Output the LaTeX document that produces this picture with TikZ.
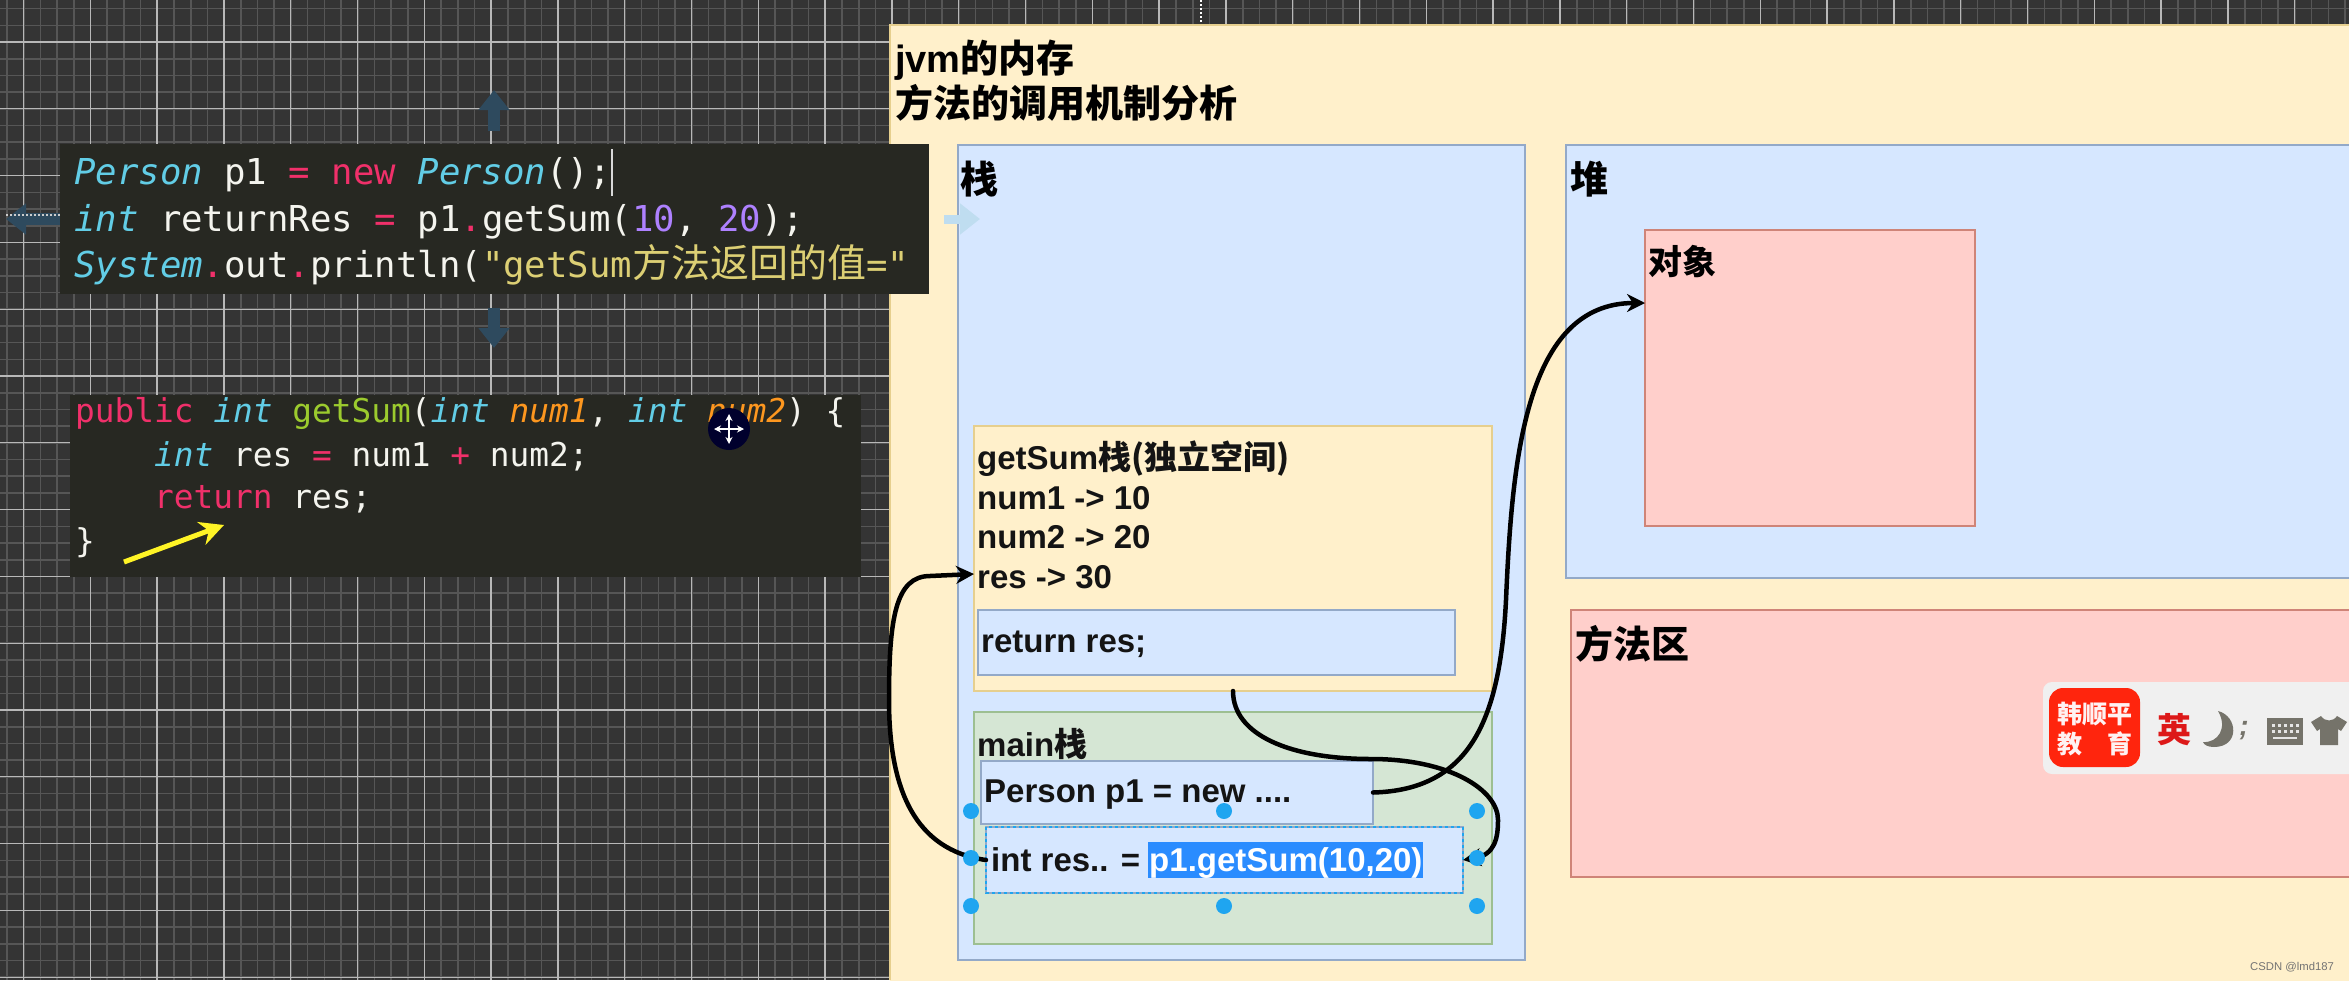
\documentclass[tikz,border=0pt]{standalone}
\usepackage{fontspec}
\setmainfont{Liberation Sans}
\setmonofont{DejaVu Sans Mono}
\newfontfamily\cjk{Noto Sans CJK SC}
\usetikzlibrary{arrows.meta}
\definecolor{bgdark}{HTML}{343434}
\definecolor{gridminor}{HTML}{565656}
\definecolor{gridmajor}{HTML}{B8B8B8}
\definecolor{codebg}{HTML}{272822}
\definecolor{cyellow}{HTML}{FFF0CB}
\definecolor{cblue}{HTML}{D6E7FF}
\definecolor{cgreen}{HTML}{D5E6D4}
\definecolor{cred}{HTML}{FFCFCB}
\definecolor{lyellow}{HTML}{E6CF8E}
\definecolor{lblue}{HTML}{93A9C8}
\definecolor{lgreen}{HTML}{9DBF92}
\definecolor{lred}{HTML}{CF8478}
\definecolor{tblue}{HTML}{62CDE6}
\definecolor{tred}{HTML}{F0306A}
\definecolor{twhite}{HTML}{F4F4EE}
\definecolor{tpurple}{HTML}{AE81FF}
\definecolor{tyellow}{HTML}{DCCF74}
\definecolor{torange}{HTML}{FD971F}
\definecolor{tgreen}{HTML}{9CCB2E}
\definecolor{hblue}{HTML}{2A8CFF}
\definecolor{handle}{HTML}{1FA5F0}
\definecolor{icong}{HTML}{75736A}
\definecolor{hover}{HTML}{2E4A5E}
\definecolor{hoverl}{HTML}{BFDDF0}
\newcommand{\sz}[1]{\fontsize{#1}{#1}\selectfont}
\newcommand{\cn}[1]{{\cjk\bfseries #1}}
\newcommand{\ty}[1]{{\color{tblue}\itshape #1}}
\newcommand{\rd}[1]{{\color{tred}\relax #1}}
\newcommand{\wh}[1]{{\color{twhite}\relax #1}}
\tikzset{
  x=1pt,y=-1pt,
  panel/.style={anchor=north west,inner sep=0pt,outer sep=0pt,line width=2pt},
  bluebox/.style={panel,fill=cblue,draw=lblue},
  yellowbox/.style={panel,fill=cyellow,draw=lyellow},
  greenbox/.style={panel,fill=cgreen,draw=lgreen},
  redbox/.style={panel,fill=cred,draw=lred},
  codebox/.style={panel,fill=codebg,draw=none},
  label/.style={anchor=base west,inner sep=0pt,font=\bfseries\sz{33},text=black!92},
  title/.style={anchor=base west,inner sep=0pt,font=\bfseries\sz{38},text=black},
  codeA/.style={anchor=base west,inner sep=0pt,font=\ttfamily\sz{35.65}},
  codeB/.style={anchor=base west,inner sep=0pt,font=\ttfamily\sz{32.8}},
  link/.style={draw=black,line width=4.5pt,line cap=round,-{Stealth[length=18pt,width=18pt]}},
  hoverarrow/.style={line width=12pt,-{Triangle[length=20pt,width=30pt]}},
  handledot/.style={circle,fill=handle,inner sep=0pt,minimum size=16pt}
}
\begin{document}
\begin{tikzpicture}
\useasboundingbox (0,0) rectangle (2349,980);
\fill[bgdark] (0,0) rectangle (2349,980);
% grid
\foreach \k in {0,...,141} {\draw[gridminor,line width=1.6pt] ({7+16.7*\k},0) -- ({7+16.7*\k},980);}
\foreach \k in {0,...,59} {\draw[gridminor,line width=1.6pt] (0,{8.6+16.7*\k}) -- (2349,{8.6+16.7*\k});}
\foreach \k in {0,...,35} {\draw[gridmajor,line width=1.3pt] ({23.5+66.8*\k},0) -- ({23.5+66.8*\k},980);}
\foreach \k in {0,...,14} {\draw[gridmajor,line width=1.3pt] (0,{42+66.8*\k}) -- (2349,{42+66.8*\k});}
\draw[white,line width=2pt,dotted] (1201,0) -- (1201,24);
% hover arrows on the left
\draw[hoverarrow,draw=hover] (494,131) -- (494,90);
\draw[hoverarrow,draw=hover] (494,308) -- (494,348);
\draw[hoverarrow,draw=hover] (60,219) -- (6,219);
\draw[white!80!black,line width=2pt,dotted] (6,215) -- (60,215);
% memory panel
\node[panel,fill=cyellow,draw=none,minimum width=1470pt,minimum height=965pt] (mem) at (890,25) {};
\draw[lyellow,line width=2pt] (890,980) -- (890,25) -- (2349,25);
\node[title] (t1) at (895,72) {jvm\cn{的内存}};
\node[title] (t2) at (895,117) {\cn{方法的调用机制分析}};
% stack
\node[bluebox,minimum width=567pt,minimum height=815pt] (stack) at (958,145) {};
\node[title] (stackt) at (960,193) {\cn{栈}};
\draw[hoverarrow,line width=9pt,draw=hoverl] (944,219) -- (980,219);
% heap
\node[bluebox,minimum width=800pt,minimum height=433pt] (heap) at (1566,145) {};
\node[title] (heapt) at (1570,193) {\cn{堆}};
\node[redbox,minimum width=330pt,minimum height=296pt] (obj) at (1645,230) {};
\node[title,font=\bfseries\sz{34}] (objt) at (1648,274) {\cn{对象}};
% method area
\node[redbox,minimum width=790pt,minimum height=267pt] (meth) at (1571,610) {};
\node[title] (metht) at (1575,658) {\cn{方法区}};
% getSum frame
\node[yellowbox,minimum width=518pt,minimum height=265pt] (gs) at (974,426) {};
\node[label] (g1) at (977,469) {getSum\cn{栈(独立空间)}};
\node[label] (g2) at (977,509) {num1 -> 10};
\node[label] (g3) at (977,548) {num2 -> 20};
\node[label] (g4) at (977,588) {res -> 30};
\node[bluebox,minimum width=477pt,minimum height=65pt] (ret) at (978,610) {};
\node[label] (rett) at (981,652) {return res;};
% main frame
\node[greenbox,minimum width=518pt,minimum height=232pt] (mainf) at (974,712) {};
\node[label] (maint) at (977,756) {main\cn{栈}};
\node[bluebox,minimum width=392pt,minimum height=63pt] (per) at (981,761) {};
\node[label] (pert) at (984,802) {Person p1 = new ....};
\node[bluebox,minimum width=477pt,minimum height=66pt] (intb) at (986,827) {};
\draw[handle,line width=1.6pt,dashed] (intb.north west) rectangle (intb.south east);
\fill[hblue] (1148,842) rectangle (1423,878);
\node[label] (intt) at (991,871) {int res.. = \textcolor{white}{p1.getSum(10,20)}};
% connectors
\coordinate (gsin) at (974,574);
\coordinate (objin) at (1645,303);
\draw[link] (intb.west) .. controls (915,850) and (889,790) .. (889,700) .. controls (889,620) and (895,576) .. (930,576) -- (gsin);
\draw[link] (gs.south) .. controls (1233,735) and (1290,759) .. (1371,759) .. controls (1450,759) and (1498,790) .. (1498,820) .. controls (1498,838) and (1495,855) .. (intb.east);
\draw[link] (per.east) .. controls (1470,790) and (1500,720) .. (1506,600) .. controls (1512,460) and (1525,303) .. (objin);
% handles
\foreach \hx/\hy in {971/811,1224/811,1477/811,971/858,1477/858,971/906,1224/906,1477/906}
  {\node[handledot] at (\hx,\hy) {};}
% code box 1
\node[codebox,minimum width=869pt,minimum height=150pt] (code1) at (60,144) {};
\node[codeA] (c1a) at (74,184) {\ty{Person}\wh{ p1 }\rd{=}\wh{ }\rd{new}\wh{ }\ty{Person}\wh{();}};
\node[codeA] (c1b) at (74,231) {\ty{int}\wh{ returnRes }\rd{=}\wh{ p1}\rd{.}\wh{getSum(}\textcolor{tpurple}{10}\wh{, }\textcolor{tpurple}{20}\wh{);}};
\node[codeA] (c1c) at (74,277) {\ty{System}\rd{.}\wh{out}\rd{.}\wh{println(}\textcolor{tyellow}{"getSum{\cjk\sz{39}方法返回的值}="}};
\draw[white!70!gray,line width=1.2pt] (612,149) -- (612,196);
% code box 2
\node[codebox,minimum width=791pt,minimum height=182pt] (code2) at (70,394.5) {};
\node[codeB] (c2a) at (75,422) {\rd{public}\wh{ }\ty{int}\wh{ }\textcolor{tgreen}{getSum}\wh{(}\ty{int}\wh{ }\textcolor{torange}{\itshape num1}\wh{, }\ty{int}\wh{ }\textcolor{torange}{\itshape num2}\wh{) \{}};
\node[codeB] (c2b) at (154,466) {\ty{int}\wh{ res }\rd{=}\wh{ num1 }\rd{+}\wh{ num2;}};
\node[codeB] (c2c) at (154,508) {\rd{return}\wh{ res;}};
\node[codeB] (c2d) at (75,552) {\wh{\}}};
\coordinate (ya) at (124,562);
\coordinate (yb) at (224,525);
\draw[draw=yellow!85!white,line width=5pt,-{Stealth[length=24pt,width=24pt]}] (ya) -- (yb);
% move cursor
\fill[black!50!blue!35!black] (729,429) circle (21);
\draw[white,line width=1.6pt,{Stealth[length=7pt,width=7pt]}-{Stealth[length=7pt,width=7pt]}] (714,429) -- (744,429);
\draw[white,line width=1.6pt,{Stealth[length=7pt,width=7pt]}-{Stealth[length=7pt,width=7pt]}] (729,414) -- (729,444);
% IME bar
\fill[rounded corners=9pt,fill=black!6] (2043,682) rectangle (2375,774);
\fill[rounded corners=14pt,fill=red!80!orange!95!white] (2049,688) rectangle (2140,767);
\node[inner sep=0pt,text=white!95!red,font=\cjk\bfseries\sz{25}] (lg1) at (2095,714) {韩顺平};
\node[inner sep=0pt,text=white!95!red,font=\cjk\bfseries\sz{25}] (lg2) at (2095,744) {教\hspace{25pt}育};
\node[inner sep=0pt,text=red!85!black!90!white,font=\cjk\bfseries\sz{34}] (ying) at (2174,730) {英};
\fill[icong] (2218,711) .. controls (2238,716) and (2240,747) .. (2214,747) .. controls (2208,747) and (2204,745) .. (2203,742) .. controls (2218,743) and (2228,728) .. cycle;
\node[inner sep=0pt,text=icong,font=\bfseries\itshape\sz{28}] (semi) at (2244,731) {;};
\fill[icong] (2267,718) rectangle (2303,745);
\foreach \kx in {2272,2278,2284,2290,2296} {\foreach \ky in {724,730} {\fill[white!80!gray] (\kx,\ky) rectangle ++(3,3);}}
\fill[white!80!gray] (2273,737) rectangle (2297,739);
\fill[icong] (2321,716) -- (2311,722) -- (2317,731) -- (2320,729) -- (2320,745) -- (2338,745) -- (2338,729) -- (2341,731) -- (2347,722) -- (2337,716) .. controls (2333,722) and (2325,722) .. cycle;
% watermark
\node[anchor=base west,inner sep=0pt,text=black!55,font=\sz{11.3}] (wm) at (2250,970) {CSDN @lmd187};
\end{tikzpicture}
\end{document}
